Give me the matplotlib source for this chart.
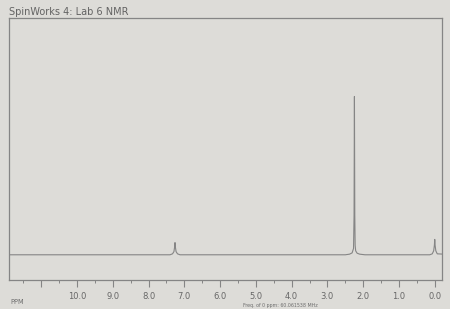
import matplotlib
matplotlib.use("Agg")
import matplotlib.pyplot as plt

# trace (ppm, relative intensity)
ppm = [11.9, 7.40, 7.33, 7.29, 7.27, 7.26, 7.25, 7.23, 7.19, 7.12,
       2.50, 2.38, 2.31, 2.27, 2.255, 2.245, 2.235, 2.225, 2.21, 2.17, 2.10, 1.95,
       0.14, 0.07, 0.03, 0.01, 0.0, -0.01, -0.03, -0.07, -0.25]
intensity = [0.0, 0.0, 0.006, 0.02, 0.05, 0.077, 0.05, 0.02, 0.006, 0.0,
             0.0, 0.004, 0.012, 0.04, 0.25, 1.0, 0.25, 0.06, 0.025, 0.01, 0.004, 0.0,
             0.0, 0.006, 0.025, 0.06, 0.097, 0.06, 0.025, 0.006, 0.004]

major_ticks = [11, 10, 9, 8, 7, 6, 5, 4, 3, 2, 1, 0]
major_labels = ["", "10.0", "9.0", "8.0", "7.0", "6.0", "5.0", "4.0", "3.0", "2.0", "1.0", "0.0"]
minor_ticks = [11.5, 10.5, 9.5, 8.5, 7.5, 6.5, 5.5, 4.5, 3.5, 2.5, 1.5, 0.5]

title = "SpinWorks 4: Lab 6 NMR"
freq_note = "Freq. of 0 ppm: 60.061538 MHz"

paper = "#dddcd8"
ink = "#858585"

fig = plt.figure(figsize=(4.5, 3.09), dpi=100, facecolor=paper)
ax = fig.add_axes([0.02, 0.095, 0.962, 0.847], facecolor=paper)

ax.plot(ppm, intensity, color=ink, lw=0.8)
ax.set_xlim(11.9, -0.2)
ax.set_ylim(-0.157, 1.496)

for s in ax.spines.values():
    s.set_color(ink)
    s.set_linewidth(0.9)

ax.set_yticks([])
ax.set_xticks(major_ticks)
ax.set_xticklabels(major_labels)
ax.set_xticks(minor_ticks, minor=True)
ax.tick_params(axis="x", which="major", direction="out", length=5, width=0.8,
               color=ink, labelsize=6, labelcolor="#676767", pad=4)
ax.tick_params(axis="x", which="minor", direction="out", length=2.5, width=0.7, color=ink)

fig.text(0.02, 0.962, title, fontsize=7, color="#636363", va="center")
fig.text(0.022, 0.022, "PPM", fontsize=4.8, color="#6e6e6e", va="center")
fig.text(0.54, 0.012, freq_note, fontsize=3.4, color="#6e6e6e", va="center")

fig.savefig("out.png", dpi=100, facecolor=paper)
